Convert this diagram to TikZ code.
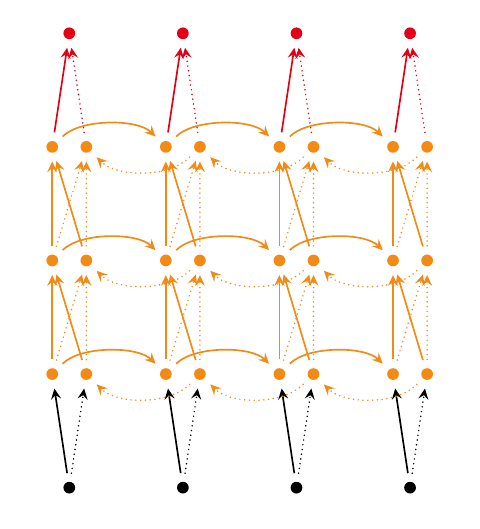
\documentclass[tikz,border=0pt]{standalone}
\usetikzlibrary{arrows.meta}

\definecolor{rnnorange}{RGB}{242,138,20}
\definecolor{rnnred}{RGB}{228,0,20}

\begin{document}
\begin{tikzpicture}[%
    x=3cm, y=3cm,
    unit/.style={%
      circle,             % round dot
      inner sep=0pt,      % no padding
      minimum size=8.8pt, % small dot
      outer sep=6.6pt     % keep arrows off the dot
    },
    hidden/.style={unit, fill=rnnorange},
    input/.style={unit, fill=black},
    output/.style={unit, fill=rnnred},
    connection/.style={%
      -{Stealth[length=8pt,width=7.5pt,inset=3pt]}, % swept arrow head
      line width=1.25pt   % fairly thick
    },
    forward/.style={%
      connection          % plain solid line
    },
    backward/.style={%
      connection,
      dash pattern=on 0pt off 3.6pt, % dotted
      line cap=round      %          with round dots
    }
]

    % fixes the margins
    \useasboundingbox (-0.61,-0.364) rectangle (3.615,4.293);

    % nodes
    \foreach \k in {0,...,3} {
      \node at (\k,0) [input]  (x\k) {};
      \node at (\k,4) [output] (y\k) {};
      \foreach \l in {1,2,3} {
        \node at (\k-0.15,\l) [hidden] (f\l\k) {};
        \node at (\k+0.15,\l) [hidden] (b\l\k) {};
      }
    }

    % inputs and outputs
    \foreach \k in {0,...,3} {
      \draw[forward,black]  (x\k) -- (f1\k);
      \draw[backward,black] (x\k) -- (b1\k);
      \draw[forward,rnnred]  (f3\k) -- (y\k);
      \draw[backward,rnnred] (b3\k) -- (y\k);
    }

    % connections between layers
    \foreach \k in {0,...,3} {
      \foreach \l/\m in {1/2,2/3} {
        \draw[forward,rnnorange]  (f\l\k) -- (f\m\k);
        \draw[forward,rnnorange]  (b\l\k) -- (f\m\k);
        \draw[backward,rnnorange] (f\l\k) -- (b\m\k);
        \draw[backward,rnnorange] (b\l\k) -- (b\m\k);
      }
    }

    % connections in time
    \foreach \k/\n in {0/1,1/2,2/3} {
      \foreach \l in {1,2,3} {
        \draw[forward,rnnorange]
        (f\l\k) to[out=45,in=135,looseness=0.7] (f\l\n);
        \draw[backward,rnnorange]
        (b\l\n) to[out=-135,in=-45,looseness=0.8] (b\l\k);
      }
    }

\end{tikzpicture}
\end{document}
